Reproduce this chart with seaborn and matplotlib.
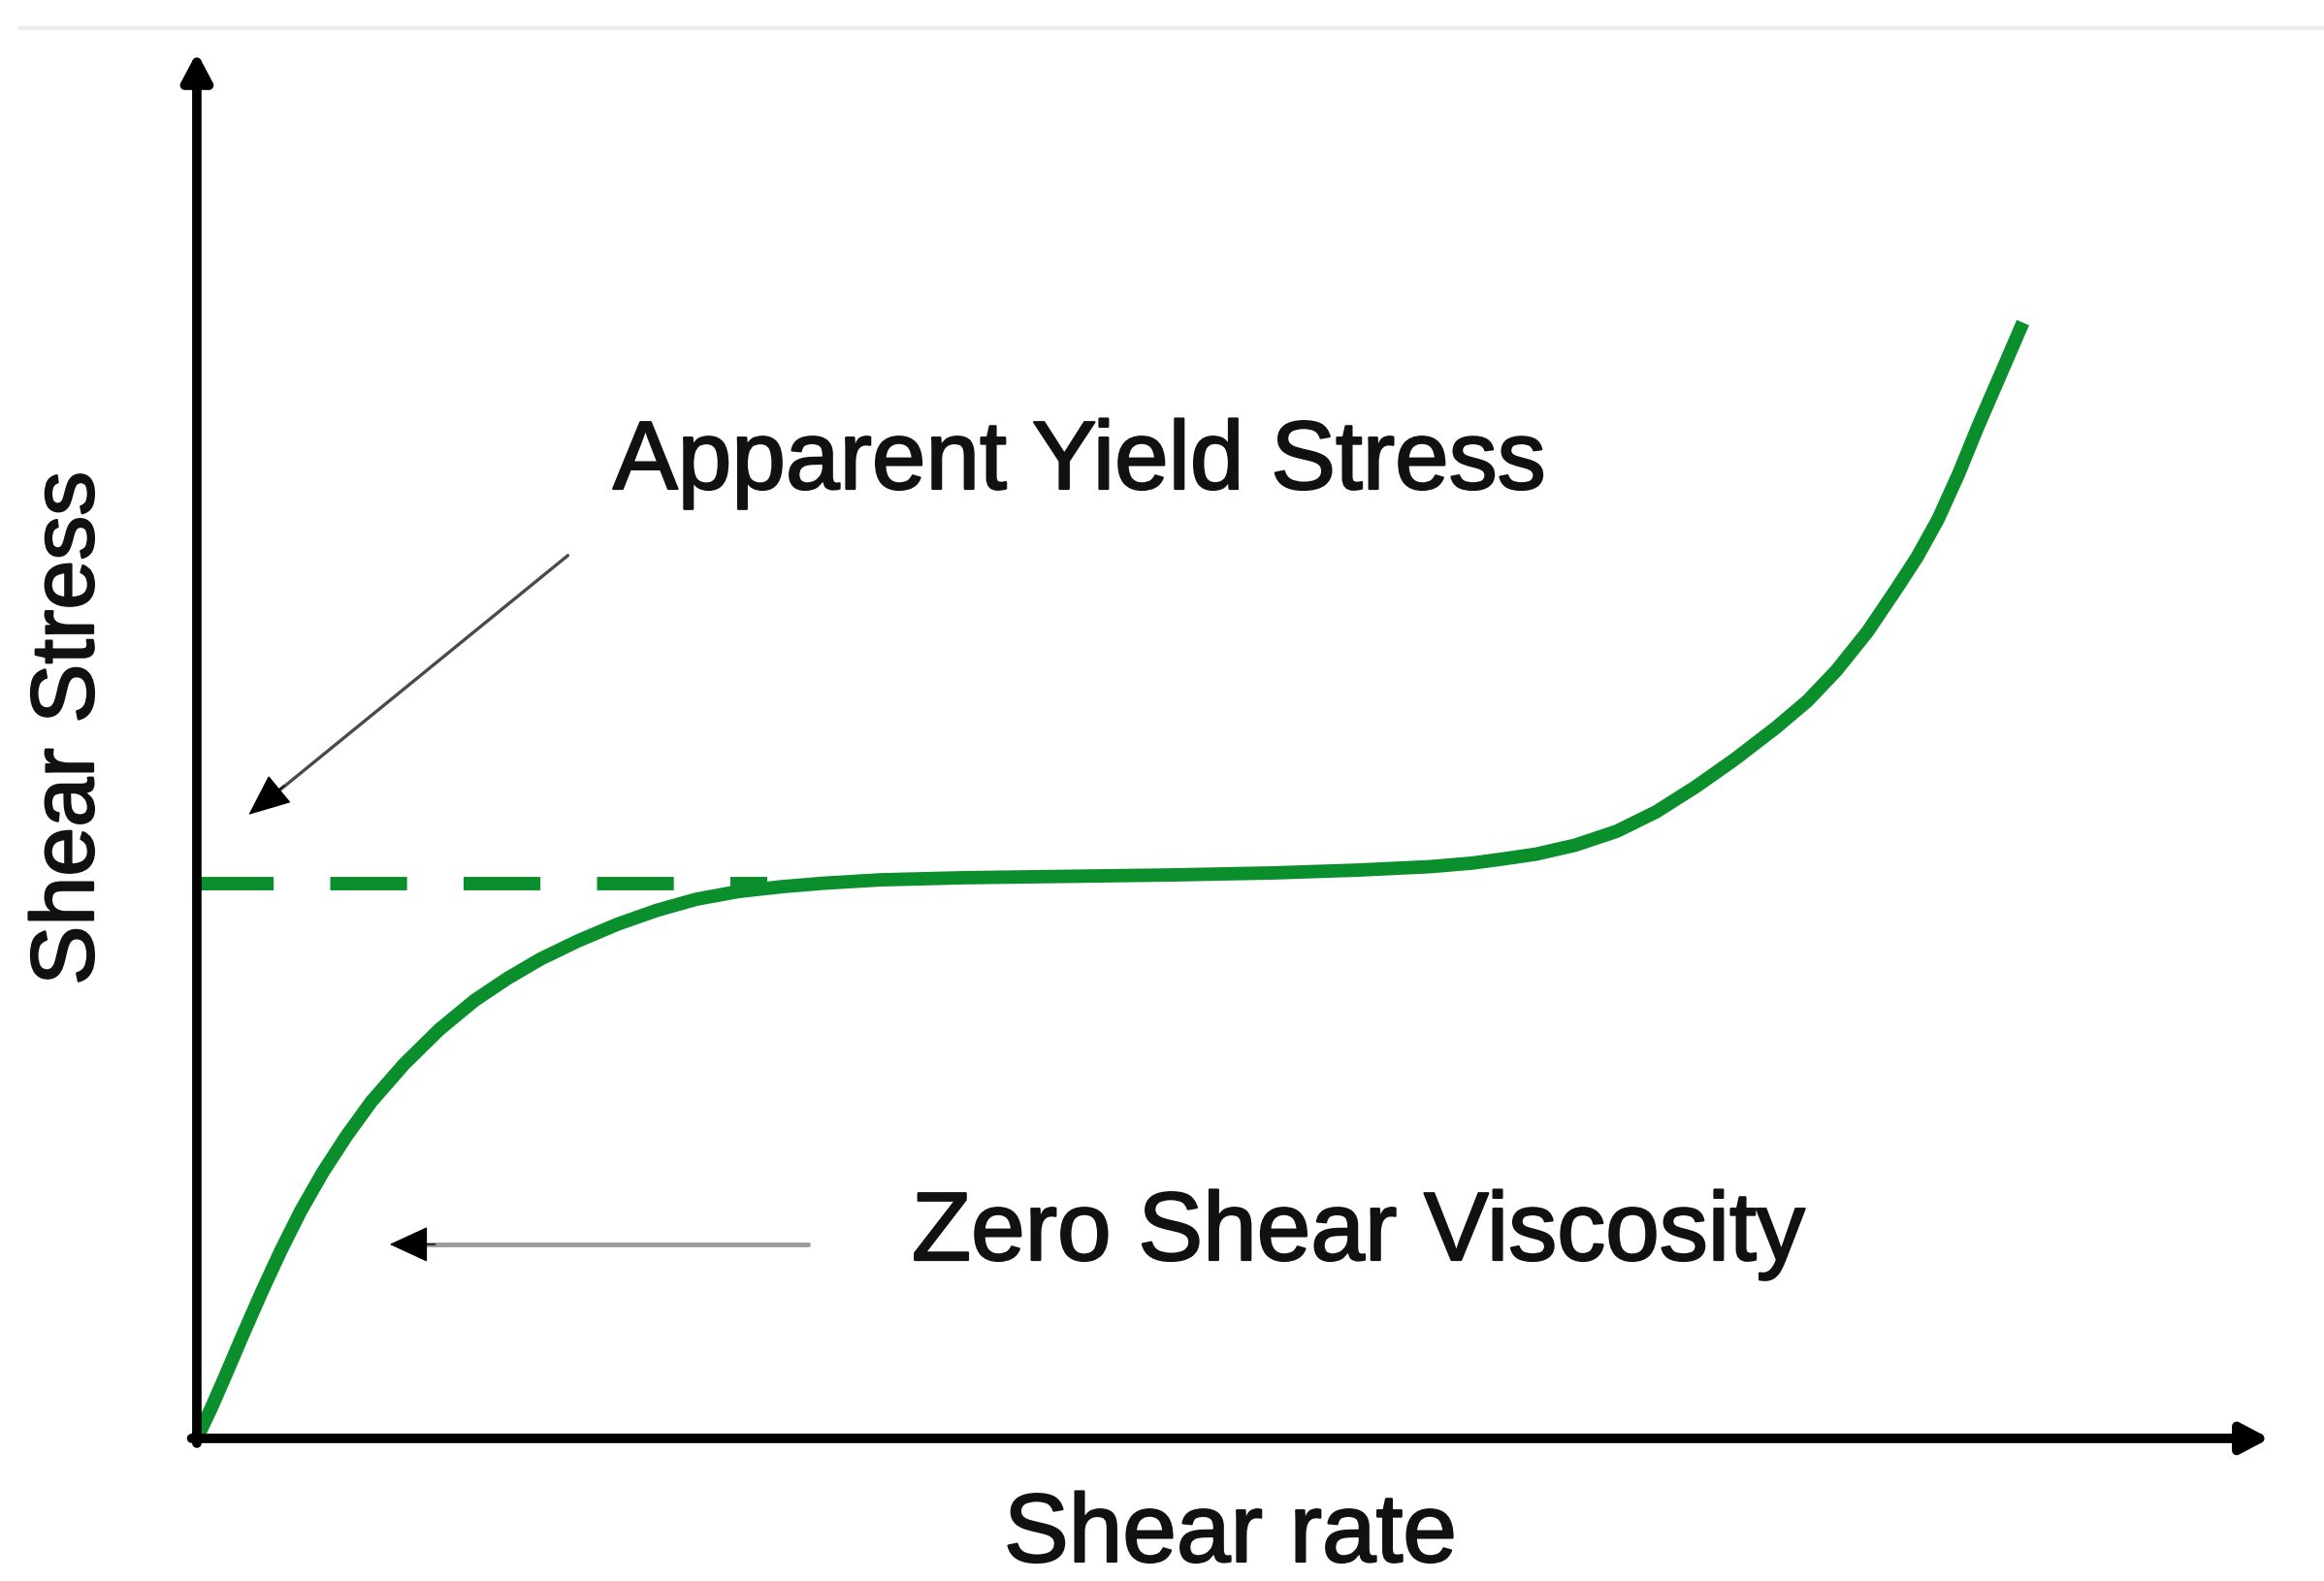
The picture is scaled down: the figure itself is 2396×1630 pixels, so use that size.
import matplotlib
matplotlib.use('Agg')
import seaborn as sns
import matplotlib.pyplot as plt
import matplotlib.patheffects as pe
from matplotlib.lines import Line2D

# curve (shear rate vs shear stress, arbitrary units 0-100)
shear_rate = [0, 0.7, 1.4, 2.2, 3.14, 4.07, 5.01, 6.08, 7.21, 8.42, 10.0, 11.7, 13.4,
              15.0, 16.6, 18.4, 20.3, 22.2, 24.1, 26.1, 28.2, 30.2, 33.0, 37.0, 42.0,
              47.0, 52.0, 56.0, 59.5, 61.5, 63.0, 64.6, 66.5, 68.5, 70.4, 72.3, 74.2,
              76.2, 77.7, 79.1, 80.6, 82.0, 83.0, 84.0, 85.0, 85.9, 87.0, 88.1]
shear_stress = [0, 2.2, 4.6, 7.4, 10.6, 13.6, 16.4, 19.2, 21.8, 24.3, 27.0, 29.5, 31.6,
                33.2, 34.6, 35.9, 37.1, 38.1, 38.9, 39.45, 39.8, 40.05, 40.3, 40.45, 40.55,
                40.65, 40.8, 41.0, 41.25, 41.5, 41.8, 42.15, 42.8, 43.8, 45.2, 47.0, 49.0,
                51.3, 53.2, 55.4, 58.2, 61.3, 63.6, 66.3, 69.6, 72.9, 76.7, 80.5]

# apparent yield stress level (dashed)
yield_rate = [0, 27.5]
yield_stress = [40.0, 40.0]

labels = ["Apparent Yield Stress", "Zero Shear Viscosity"]
x_label = "Shear rate"
y_label = "Shear Stress"

green = '#0a8f2c'

sns.set_theme(style='white')
plt.rcParams['font.family'] = ['Liberation Sans', 'DejaVu Sans']

fig = plt.figure(figsize=(23.96, 16.30), dpi=100)
ax = fig.add_axes([0.0847, 0.0902, 0.8919, 0.8767])

# main curve
sns.lineplot(x=shear_rate, y=shear_stress, ax=ax, color=green, linewidth=10, sort=False)
ax.lines[-1].set_solid_capstyle('butt')
ax.lines[-1].set_clip_on(False)

# dashed yield line
sns.lineplot(x=yield_rate, y=yield_stress, ax=ax, color=green, linewidth=10)
ax.lines[-1].set_dashes([5.7, 4.2])
ax.lines[-1].set_clip_on(False)

ax.set_xlim(0, 100)
ax.set_ylim(0, 100)
ax.set_axis_off()

# axis arrows
axis_arrow = dict(arrowstyle='-|>,head_length=0.85,head_width=0.45', color='black',
                  lw=7, shrinkA=0, shrinkB=0, mutation_scale=20)
ax.annotate('', xy=(100, 0), xytext=(-0.25, 0), arrowprops=axis_arrow, annotation_clip=False)
ax.annotate('', xy=(0, 100), xytext=(0, -0.35), arrowprops=axis_arrow, annotation_clip=False)

# annotation arrows: grey shafts with black heads
ax.plot([17.9, 3.2], [63.7, 45.8], color='#4a4a4a', lw=2.4, clip_on=False)
ax.annotate('', xy=(2.5, 45.0), xytext=(4.2, 47.1),
            arrowprops=dict(arrowstyle='-|>,head_length=1.4,head_width=0.6', color='black',
                            lw=1, shrinkA=0, shrinkB=0, mutation_scale=20))
ax.plot([29.5, 10.0], [14.0, 14.0], color='#9a9a9a', lw=3.5, clip_on=False)
ax.annotate('', xy=(9.3, 14.0), xytext=(11.5, 14.0),
            arrowprops=dict(arrowstyle='-|>,head_length=1.3,head_width=0.6', color='black',
                            lw=1, shrinkA=0, shrinkB=0, mutation_scale=20))

# texts (slight stroke to mimic the heavier look of the original)
thick = [pe.withStroke(linewidth=1.6, foreground='#111111')]
txt = dict(color='#111111', fontsize=72, path_effects=thick)
fig.text(632 / 2396, 1 - 504 / 1630, labels[0], ha='left', va='baseline', **txt)
fig.text(940 / 2396, 1 - 1299 / 1630, labels[1], ha='left', va='baseline', **txt)
fig.text(1035 / 2396, 1 - 1610 / 1630, x_label, ha='left', va='baseline', **txt)
fig.text(72 / 2396, 1 - 751 / 1630, y_label, rotation=90, ha='center', va='center',
         color='#111111', fontsize=66, path_effects=thick)

# faint frame line at the top of the picture
fig.add_artist(Line2D([20 / 2396, 1.0], [1 - 29 / 1630, 1 - 29 / 1630],
                      color='#ececec', lw=3, transform=fig.transFigure))

fig.savefig('out.png', dpi=100, facecolor='white')
